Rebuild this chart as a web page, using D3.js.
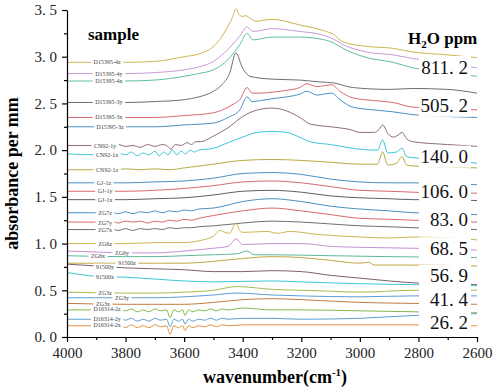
<!DOCTYPE html>
<html>
<head>
<meta charset="utf-8">
<script src="https://cdnjs.cloudflare.com/ajax/libs/d3/7.8.5/d3.min.js"></script>
<style>
  body { margin: 0; background: #fff; }
  svg { display: block; font-family: "Liberation Serif", "Times New Roman", serif; }
  text { font-family: "Liberation Serif", "Times New Roman", serif; }
</style>
</head>
<body>
<svg></svg>
<script>
const width = 495;
const height = 388;
const margin = { top: 10, right: 18, bottom: 51, left: 67 };

// ================================
// Spectra: [wavenumber, absorbance per mm]
// ================================

const d15395_4 = [
  [[4000,2.94],[3900,2.94],[3800,2.94],[3700,2.95],[3600,3.00],[3550,3.03],[3500,3.11],[3470,3.22],[3450,3.33],[3435,3.42],[3423,3.51],[3412,3.45],[3400,3.43],[3390,3.44],[3370,3.40],[3355,3.38],[3300,3.40],[3205,3.34],[3136,3.29],[3091,3.24],[3058,3.16],[2976,3.11],[2887,3.09],[2818,3.05],[2700,3.02],[2600,2.99]],
  [[4000,2.82],[3900,2.82],[3800,2.82],[3700,2.83],[3600,2.86],[3550,2.89],[3500,2.95],[3450,3.08],[3410,3.22],[3385,3.32],[3365,3.27],[3300,3.30],[3205,3.27],[3136,3.24],[3091,3.19],[3058,3.13],[2976,3.05],[2887,3.02],[2818,2.98],[2700,2.93],[2600,2.88]],
  [[4000,2.74],[3900,2.74],[3800,2.74],[3700,2.75],[3600,2.79],[3550,2.82],[3500,2.86],[3450,2.97],[3410,3.13],[3385,3.25],[3365,3.18],[3300,3.21],[3205,3.21],[3136,3.19],[3091,3.15],[3058,3.09],[2976,2.99],[2887,2.94],[2818,2.88],[2700,2.83],[2600,2.79]]
];

const d15395_3 = [
  [[4000,2.51],[3900,2.51],[3800,2.51],[3700,2.52],[3600,2.54],[3550,2.57],[3500,2.63],[3471,2.70],[3445,2.82],[3423,3.04],[3402,2.89],[3375,2.79],[3300,2.76],[3205,2.75],[3136,2.73],[3091,2.72],[3024,2.67],[2900,2.65],[2818,2.66],[2700,2.65],[2600,2.61]],
  [[4000,2.35],[3900,2.35],[3800,2.35],[3700,2.35],[3600,2.37],[3500,2.40],[3450,2.46],[3433,2.49],[3410,2.54],[3385,2.67],[3368,2.61],[3340,2.61],[3300,2.62],[3250,2.64],[3205,2.67],[3181,2.71],[3147,2.68],[3096,2.70],[3068,2.63],[3024,2.56],[2950,2.53],[2887,2.51],[2818,2.46],[2700,2.45],[2600,2.43]],
  [[4000,2.25],[3900,2.25],[3800,2.25],[3700,2.25],[3600,2.27],[3500,2.29],[3450,2.35],[3410,2.43],[3385,2.57],[3368,2.52],[3340,2.53],[3300,2.55],[3250,2.57],[3205,2.60],[3181,2.63],[3147,2.59],[3096,2.61],[3068,2.54],[3024,2.46],[2950,2.43],[2887,2.41],[2818,2.38],[2700,2.36],[2600,2.35]]
];

const cn92_1 = [
  [[4000,2.05],[3900,2.05],[3875,2.05],[3850,2.04],[3825,2.06],[3800,2.04],[3775,2.05],[3750,2.03],[3725,2.06],[3700,2.04],[3675,2.06],[3660,2.05],[3645,2.01],[3630,2.06],[3610,2.05],[3590,2.08],[3575,2.06],[3560,2.09],[3545,2.09],[3500,2.15],[3450,2.24],[3400,2.36],[3350,2.43],[3300,2.45],[3250,2.42],[3200,2.34],[3170,2.28],[3100,2.25],[3033,2.22],[3000,2.19],[2950,2.19],[2935,2.22],[2922,2.27],[2905,2.18],[2885,2.14],[2870,2.16],[2856,2.19],[2840,2.12],[2818,2.09],[2700,2.06],[2600,2.04]],
  [[4000,1.96],[3900,1.95],[3875,1.96],[3850,1.94],[3825,1.97],[3800,1.95],[3780,1.98],[3760,1.94],[3740,1.97],[3720,1.95],[3700,1.99],[3685,1.94],[3670,1.98],[3655,1.95],[3640,2.00],[3625,1.95],[3610,1.99],[3595,1.96],[3580,2.00],[3565,1.98],[3550,2.00],[3500,2.02],[3450,2.08],[3400,2.14],[3350,2.19],[3300,2.20],[3250,2.19],[3200,2.13],[3170,2.09],[3100,2.06],[3000,2.01],[2940,2.00],[2922,2.11],[2905,1.97],[2875,1.98],[2856,2.02],[2840,1.93],[2818,1.92],[2700,1.89],[2600,1.86]],
  [[4000,1.79],[3900,1.79],[3850,1.78],[3800,1.80],[3750,1.79],[3700,1.80],[3650,1.79],[3600,1.81],[3500,1.85],[3400,1.89],[3300,1.90],[3200,1.89],[3100,1.87],[3000,1.85],[2940,1.85],[2922,1.98],[2905,1.84],[2875,1.86],[2856,1.93],[2840,1.84],[2818,1.83],[2700,1.82],[2600,1.81]]
];

const gj_1 = [
  [[4000,1.65],[3800,1.65],[3700,1.66],[3600,1.67],[3500,1.70],[3400,1.75],[3300,1.76],[3200,1.74],[3100,1.69],[3000,1.66],[2900,1.65],[2818,1.65],[2700,1.64],[2600,1.63]],
  [[4000,1.56],[3800,1.56],[3700,1.57],[3600,1.59],[3500,1.62],[3400,1.66],[3300,1.67],[3200,1.65],[3100,1.61],[3000,1.57],[2900,1.56],[2818,1.55],[2700,1.54],[2600,1.54]],
  [[4000,1.47],[3800,1.47],[3700,1.48],[3600,1.49],[3500,1.52],[3400,1.56],[3300,1.57],[3200,1.55],[3100,1.51],[3000,1.49],[2900,1.48],[2818,1.47],[2700,1.47],[2600,1.46]]
];

const zg7 = [
  [[4000,1.33],[3900,1.33],[3875,1.32],[3850,1.34],[3825,1.32],[3800,1.34],[3775,1.32],[3750,1.34],[3725,1.33],[3700,1.35],[3675,1.33],[3650,1.35],[3625,1.34],[3600,1.36],[3575,1.35],[3550,1.37],[3500,1.38],[3400,1.45],[3300,1.48],[3200,1.45],[3100,1.40],[3000,1.37],[2900,1.35],[2818,1.33],[2700,1.32],[2600,1.31]],
  [[4000,1.23],[3900,1.23],[3875,1.22],[3850,1.24],[3825,1.22],[3800,1.24],[3775,1.23],[3750,1.24],[3725,1.22],[3700,1.24],[3675,1.23],[3650,1.25],[3625,1.24],[3600,1.26],[3575,1.25],[3550,1.27],[3500,1.30],[3400,1.35],[3300,1.38],[3200,1.35],[3100,1.31],[3000,1.27],[2900,1.26],[2818,1.25],[2700,1.24],[2600,1.23]],
  [[4000,1.15],[3900,1.15],[3875,1.14],[3850,1.16],[3825,1.14],[3800,1.16],[3775,1.14],[3750,1.16],[3725,1.15],[3700,1.16],[3675,1.15],[3650,1.17],[3625,1.16],[3600,1.17],[3575,1.17],[3550,1.18],[3500,1.19],[3400,1.22],[3300,1.24],[3200,1.23],[3100,1.21],[3000,1.19],[2900,1.18],[2818,1.17],[2700,1.16],[2600,1.15]]
];

const zg6 = [
  [[4000,1.00],[3800,1.00],[3700,1.01],[3600,1.01],[3550,1.03],[3500,1.08],[3478,1.14],[3460,1.12],[3445,1.11],[3423,1.22],[3410,1.14],[3400,1.12],[3317,1.13],[3280,1.11],[3239,1.13],[3150,1.10],[3000,1.07],[2900,1.06],[2818,1.07],[2700,1.06],[2600,1.04]],
  [[4000,0.92],[3900,0.91],[3800,0.90],[3700,0.90],[3600,0.92],[3500,0.95],[3450,0.97],[3423,1.05],[3400,0.99],[3300,1.00],[3200,1.00],[3100,0.97],[3000,0.96],[2818,0.95],[2600,0.93]],
  [[4000,0.87],[3800,0.86],[3700,0.86],[3600,0.87],[3500,0.88],[3420,0.89],[3385,0.92],[3360,0.88],[3300,0.88],[3100,0.87],[2900,0.86],[2600,0.85]]
];

const s91500 = [
  [[4000,0.79],[3800,0.79],[3700,0.79],[3600,0.79],[3500,0.81],[3400,0.84],[3300,0.86],[3200,0.85],[3100,0.82],[3000,0.79],[2970,0.80],[2950,0.77],[2900,0.77],[2818,0.77],[2600,0.76]],
  [[4000,0.78],[3900,0.76],[3800,0.74],[3700,0.73],[3600,0.72],[3500,0.70],[3400,0.70],[3300,0.71],[3200,0.70],[3100,0.66],[3000,0.63],[2900,0.60],[2818,0.58],[2600,0.56]],
  [[4000,0.69],[3900,0.65],[3800,0.64],[3700,0.62],[3600,0.60],[3500,0.59],[3300,0.60],[3200,0.59],[3000,0.57],[2818,0.56],[2600,0.55]]
];

const zg3 = [
  [[4000,0.48],[3800,0.47],[3700,0.47],[3600,0.48],[3500,0.50],[3420,0.54],[3300,0.51],[3200,0.50],[3100,0.49],[3000,0.48],[2818,0.50],[2600,0.50]],
  [[4000,0.42],[3800,0.42],[3700,0.42],[3600,0.43],[3500,0.45],[3420,0.47],[3300,0.45],[3200,0.44],[3000,0.43],[2818,0.44],[2600,0.44]],
  [[4000,0.36],[3800,0.35],[3600,0.35],[3500,0.37],[3400,0.40],[3300,0.41],[3200,0.40],[3000,0.37],[2818,0.36],[2600,0.35]]
];

const d16314_2 = [
  [[4000,0.29],[3900,0.29],[3880,0.28],[3860,0.30],[3840,0.28],[3820,0.30],[3800,0.28],[3780,0.30],[3760,0.27],[3740,0.29],[3720,0.27],[3700,0.30],[3680,0.28],[3660,0.29],[3648,0.21],[3635,0.29],[3620,0.27],[3605,0.29],[3597,0.23],[3585,0.29],[3570,0.27],[3550,0.29],[3530,0.28],[3510,0.30],[3490,0.28],[3470,0.30],[3450,0.29],[3400,0.31],[3300,0.29],[3200,0.29],[3000,0.28],[2818,0.27],[2700,0.26],[2600,0.26]],
  [[4000,0.19],[3900,0.19],[3880,0.18],[3860,0.20],[3840,0.18],[3820,0.20],[3800,0.18],[3780,0.20],[3760,0.17],[3740,0.19],[3720,0.17],[3700,0.20],[3680,0.18],[3660,0.19],[3648,0.11],[3635,0.19],[3620,0.17],[3605,0.19],[3597,0.14],[3585,0.19],[3570,0.17],[3550,0.19],[3530,0.18],[3510,0.20],[3490,0.18],[3470,0.20],[3450,0.19],[3400,0.20],[3300,0.20],[3200,0.19],[3000,0.20],[2818,0.23],[2700,0.24],[2600,0.25]],
  [[4000,0.12],[3900,0.12],[3880,0.11],[3860,0.13],[3840,0.11],[3820,0.13],[3800,0.10],[3780,0.13],[3760,0.10],[3740,0.12],[3720,0.10],[3700,0.13],[3680,0.11],[3660,0.12],[3648,0.03],[3635,0.12],[3620,0.10],[3605,0.12],[3597,0.07],[3585,0.12],[3570,0.10],[3550,0.12],[3530,0.11],[3510,0.13],[3490,0.11],[3470,0.13],[3450,0.12],[3400,0.13],[3300,0.13],[3200,0.13],[3000,0.13],[2818,0.13],[2700,0.12],[2600,0.12]]
];

const groups = [d15395_4, d15395_3, cn92_1, gj_1, zg7, zg6, s91500, zg3, d16314_2];

const sampleNames = [
  ['D15395-4z', 'D15395-4y', 'D15395-4x'],
  ['D15395-3y', 'D15395-3x', 'D15395-3z'],
  ['CN92-1y', 'CN92-1x', 'CN92-1z'],
  ['GJ-1z', 'GJ-1y', 'GJ-1x'],
  ['ZG7z', 'ZG7y', 'ZG7x'],
  ['ZG6z', 'ZG6y', 'ZG6x'],
  ['91500z', '91500y', '91500x'],
  ['ZG3z', 'ZG3y', 'ZG3x'],
  ['D16314-2z', 'D16314-2y', 'D16314-2x']
];

const waterPpm = ['811.2', '505.2', '140.0', '106.0', '83.0', '68.5', '56.9', '41.4', '26.2'];

const xTicks = [4000, 3800, 3600, 3400, 3200, 3000, 2800, 2600];
const yTicks = [0, 0.5, 1.0, 1.5, 2.0, 2.5, 3.0, 3.5];

// ================================
// Layout / styling
// ================================

const palette = [
  ['#cdb650', '#c99bd8', '#5fbf9c'],
  ['#6f6f6f', '#d8686e', '#4b90c2'],
  ['#8c6b7c', '#3ec6d6', '#b8ab45'],
  ['#4b90c2', '#d8686e', '#5f5f5f'],
  ['#4b90c2', '#d8686e', '#707070'],
  ['#cdb650', '#c48fd6', '#5fb79a'],
  ['#c4a646', '#7d5f72', '#3ec6d6'],
  ['#a8bb4e', '#5d9fd3', '#c37c3e'],
  ['#7fb84b', '#5d9fd3', '#e0923e']
];

// where (in cm-1) each sample tag sits on its trace
const tagAt = [
  [3863, 3857, 3857],
  [3857, 3857, 3853],
  [3870, 3863, 3863],
  [3874, 3870, 3870],
  [3870, 3870, 3870],
  [3870, 3812, 3894],
  [3795, 3870, 3870],
  [3870, 3812, 3877],
  [3863, 3863, 3863]
];

// vertical anchor (absorbance units) of the H2O ppm tags
const ppmAt = [2.89, 2.475, 1.93, 1.56, 1.26, 0.95, 0.655, 0.40, 0.16];

const serif = '"Liberation Serif", "Times New Roman", serif';

const svg = d3.select('svg')
  .attr('width', width)
  .attr('height', height);

const x = d3.scaleLinear()
  .domain([4000, 2600])
  .range([margin.left, width - margin.right]);

const y = d3.scaleLinear()
  .domain([0, 3.5])
  .range([height - margin.bottom, margin.top]);

const line = d3.line()
  .x(d => x(d[0]))
  .y(d => y(d[1]))
  .curve(d3.curveMonotoneX);

function valueAt(series, w) {
  for (let i = 1; i < series.length; i++) {
    const a = series[i - 1], b = series[i];
    if (w <= a[0] && w >= b[0]) {
      const t = (a[0] - w) / (a[0] - b[0]);
      return a[1] + t * (b[1] - a[1]);
    }
  }
  return series[0][1];
}

// ================================
// Traces
// ================================

const traces = svg.append('g');
groups.forEach((g, gi) => {
  traces.selectAll(null)
    .data(g)
    .enter()
    .append('path')
      .attr('d', line)
      .attr('fill', 'none')
      .attr('stroke', (d, i) => palette[gi][i])
      .attr('stroke-width', 1);
});

// ================================
// Sample tags on the left
// ================================

const tags = svg.append('g');
groups.forEach((g, gi) => {
  g.forEach((series, i) => {
    const cx = x(tagAt[gi][i]);
    const cy = y(valueAt(series, tagAt[gi][i]));
    const t = tags.append('g');
    const rect = t.append('rect').attr('fill', '#fff');
    const txt = t.append('text')
      .attr('x', cx)
      .attr('y', cy)
      .attr('dy', '0.33em')
      .attr('text-anchor', 'middle')
      .style('font-family', serif)
      .attr('font-size', 6)
      .attr('fill', '#444')
      .text(sampleNames[gi][i]);
    const w = txt.node().getComputedTextLength();
    rect.attr('x', cx - w / 2 - 2.5)
      .attr('y', cy - 2.8)
      .attr('width', w + 5)
      .attr('height', 5.6);
  });
});

// ================================
// H2O ppm tags on the right
// ================================

const ppm = svg.append('g');
waterPpm.forEach((v, i) => {
  const cy = y(ppmAt[i]);
  ppm.append('rect')
    .attr('fill', '#fff')
    .attr('x', 419)
    .attr('y', cy - 11)
    .attr('width', 52)
    .attr('height', 22);
  ppm.append('text')
    .attr('x', 468)
    .attr('y', cy)
    .attr('dy', '0.35em')
    .attr('text-anchor', 'end')
    .style('font-family', serif)
    .attr('font-size', 19)
    .attr('fill', '#111')
    .text(v.replace('.', '. '));
});

// ================================
// Axes
// ================================

const fmt = d => d3.format('.1f')(d).replace('.', '. ');

svg.append('g')
  .attr('transform', `translate(${margin.left},0)`)
  .call(d3.axisLeft(y).tickValues(yTicks).tickSize(5).tickSizeOuter(0).tickPadding(5).tickFormat(fmt));
svg.append('g')
  .attr('transform', `translate(${margin.left},0)`)
  .call(d3.axisLeft(y).tickValues(d3.range(0.25, 3.5, 0.5)).tickSize(3).tickFormat(''))
  .call(g => g.select('.domain').remove());

svg.append('g')
  .attr('transform', `translate(0,${height - margin.bottom})`)
  .call(d3.axisBottom(x).tickValues(xTicks).tickSize(5).tickSizeOuter(0).tickPadding(5).tickFormat(d3.format('d')));
svg.append('g')
  .attr('transform', `translate(0,${height - margin.bottom})`)
  .call(d3.axisBottom(x).tickValues(d3.range(3900, 2600, -200)).tickSize(3).tickFormat(''))
  .call(g => g.select('.domain').remove());

svg.selectAll('.tick text')
  .style('font-family', serif)
  .attr('font-size', 15)
  .attr('fill', '#222');
svg.selectAll('.domain, .tick line')
  .attr('stroke', '#000')
  .attr('stroke-width', 1.2);

// ================================
// Titles
// ================================

svg.append('text')
  .attr('transform', `translate(18,${(margin.top + height - margin.bottom) / 2}) rotate(-90)`)
  .attr('text-anchor', 'middle')
  .style('font-family', serif)
  .attr('font-size', 18)
  .attr('font-weight', 'bold')
  .text('absorbance per mm');

const xt = svg.append('text')
  .attr('x', (margin.left + width - margin.right) / 2 + 3)
  .attr('y', 383)
  .attr('text-anchor', 'middle')
  .style('font-family', serif)
  .attr('font-size', 18)
  .attr('font-weight', 'bold');
xt.append('tspan').text('wavenumber(cm');
xt.append('tspan').attr('font-size', 11).attr('dy', -7).text('-1');
xt.append('tspan').attr('dy', 7).text(')');

svg.append('text')
  .attr('x', 88)
  .attr('y', 40)
  .style('font-family', serif)
  .attr('font-size', 17)
  .attr('font-weight', 'bold')
  .text('sample');

const ht = svg.append('text')
  .attr('x', 408)
  .attr('y', 44)
  .style('font-family', serif)
  .attr('font-size', 17)
  .attr('font-weight', 'bold');
ht.append('tspan').text('H');
ht.append('tspan').attr('font-size', 11).attr('dy', 4).text('2');
ht.append('tspan').attr('dy', -4).text('O ppm');
</script>
</body>
</html>
